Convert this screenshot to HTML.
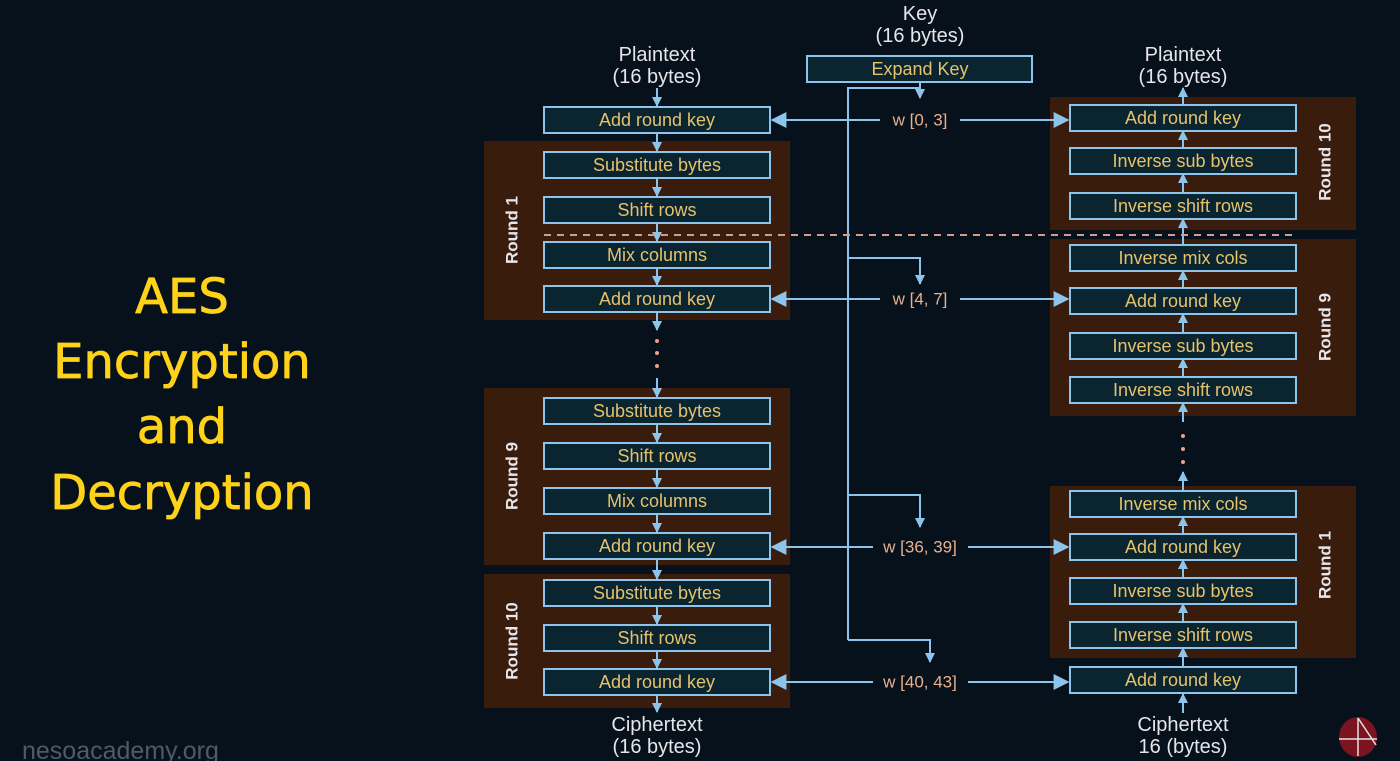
<!DOCTYPE html>
<html><head><meta charset="utf-8"><style>
html,body{margin:0;padding:0;background:#07111b;}
svg{display:block}
.b{fill:#0a2430;stroke:#8cc4ec;stroke-width:2}
.t{fill:#e6c26c;font-family:"Liberation Sans",sans-serif;font-size:18px;text-anchor:middle;dominant-baseline:central}
.w{fill:#e8b08c;font-family:"Liberation Sans",sans-serif;font-size:17px;text-anchor:middle;dominant-baseline:central}
.l{fill:#e6e6ea;font-family:"Liberation Sans",sans-serif;font-size:20px;text-anchor:middle}
.r{fill:#e6e6ea;font-family:"Liberation Sans",sans-serif;font-size:17px;font-weight:bold;text-anchor:middle;dominant-baseline:central}
.p{fill:#3a1c0c}
.ln{stroke:#8cc4ec;stroke-width:2;fill:none}
.h{fill:#ffd21a;font-family:"DejaVu Sans","Liberation Sans",sans-serif;font-size:48px;text-anchor:middle;stroke:#ffd21a;stroke-width:0.8}
</style></head><body>
<svg width="1400" height="761" viewBox="0 0 1400 761" xmlns="http://www.w3.org/2000/svg">
<defs>
<marker id="a" viewBox="0 0 10 10" refX="9" refY="5" markerWidth="5" markerHeight="5" orient="auto-start-reverse"><path d="M0,0L10,5L0,10z" fill="#8cc4ec"/></marker>
<marker id="A" viewBox="0 0 10 10" refX="9" refY="5" markerWidth="8" markerHeight="8" orient="auto-start-reverse"><path d="M0,0L10,5L0,10z" fill="#8cc4ec"/></marker>
</defs>
<rect width="1400" height="761" fill="#07111b"/>
<text class="h" x="182" y="313">AES</text>
<text class="h" x="182" y="378">Encryption</text>
<text class="h" x="182" y="443">and</text>
<text class="h" x="182" y="509">Decryption</text>
<text x="22" y="759" fill="#4d5b66" font-family="Liberation Sans,sans-serif" font-size="25">nesoacademy.org</text>
<rect class="p" x="484" y="141" width="306" height="179"/>
<rect class="p" x="484" y="388" width="306" height="177"/>
<rect class="p" x="484" y="574" width="306" height="134"/>
<rect class="p" x="1050" y="97" width="306" height="133"/>
<rect class="p" x="1050" y="239" width="306" height="177"/>
<rect class="p" x="1050" y="486" width="306" height="172"/>
<text class="r" transform="translate(512,230) rotate(-90)">Round 1</text>
<text class="r" transform="translate(512,476) rotate(-90)">Round 9</text>
<text class="r" transform="translate(512,641) rotate(-90)">Round 10</text>
<text class="r" transform="translate(1325,162) rotate(-90)">Round 10</text>
<text class="r" transform="translate(1325,327) rotate(-90)">Round 9</text>
<text class="r" transform="translate(1325,565) rotate(-90)">Round 1</text>
<g class="ln" marker-end="url(#a)">
<line x1="657" y1="88" x2="657" y2="106"/>
<line x1="657" y1="132" x2="657" y2="151"/>
<line x1="657" y1="177" x2="657" y2="196"/>
<line x1="657" y1="222" x2="657" y2="241"/>
<line x1="657" y1="267" x2="657" y2="285"/>
<line x1="657" y1="311" x2="657" y2="330"/>
<line x1="657" y1="378" x2="657" y2="397"/>
<line x1="657" y1="423" x2="657" y2="442"/>
<line x1="657" y1="468" x2="657" y2="487"/>
<line x1="657" y1="513" x2="657" y2="532"/>
<line x1="657" y1="558" x2="657" y2="579"/>
<line x1="657" y1="605" x2="657" y2="624"/>
<line x1="657" y1="650" x2="657" y2="668"/>
<line x1="657" y1="694" x2="657" y2="712"/>
<line x1="1183" y1="105" x2="1183" y2="88"/>
<line x1="1183" y1="148" x2="1183" y2="131"/>
<line x1="1183" y1="193" x2="1183" y2="174"/>
<line x1="1183" y1="245" x2="1183" y2="219"/>
<line x1="1183" y1="288" x2="1183" y2="271"/>
<line x1="1183" y1="333" x2="1183" y2="314"/>
<line x1="1183" y1="377" x2="1183" y2="359"/>
<line x1="1183" y1="422" x2="1183" y2="403"/>
<line x1="1183" y1="491" x2="1183" y2="472"/>
<line x1="1183" y1="534" x2="1183" y2="517"/>
<line x1="1183" y1="578" x2="1183" y2="560"/>
<line x1="1183" y1="622" x2="1183" y2="604"/>
<line x1="1183" y1="667" x2="1183" y2="648"/>
<line x1="1183" y1="713" x2="1183" y2="694"/>
<line x1="920" y1="82" x2="920" y2="98"/>
<polyline points="848,258 920,258 920,284"/>
<polyline points="848,495 920,495 920,527"/>
<polyline points="848,640 930,640 930,662"/>
</g>
<polyline class="ln" points="920,88 848,88 848,640"/>
<line x1="544" y1="235" x2="1296" y2="235" stroke="#d49c8c" stroke-width="2" stroke-dasharray="7,6"/>
<g fill="#e8a088"><circle cx="657" cy="341" r="2"/><circle cx="657" cy="353" r="2"/><circle cx="657" cy="366" r="2"/>
<circle cx="1183" cy="436" r="2"/><circle cx="1183" cy="449" r="2"/><circle cx="1183" cy="462" r="2"/></g>
<g class="ln" marker-end="url(#A)">
<line x1="880" y1="120" x2="772" y2="120"/><line x1="960" y1="120" x2="1068" y2="120"/>
<line x1="880" y1="299" x2="772" y2="299"/><line x1="960" y1="299" x2="1068" y2="299"/>
<line x1="873" y1="547" x2="772" y2="547"/><line x1="968" y1="547" x2="1068" y2="547"/>
<line x1="873" y1="682" x2="772" y2="682"/><line x1="968" y1="682" x2="1068" y2="682"/>
</g>
<text class="w" x="920" y="120">w [0, 3]</text>
<text class="w" x="920" y="299">w [4, 7]</text>
<text class="w" x="920" y="547">w [36, 39]</text>
<text class="w" x="920" y="682">w [40, 43]</text>
<rect class="b" x="807" y="56" width="225" height="26"/>
<text class="t" x="920" y="69">Expand Key</text>
<text class="l" x="920" y="20">Key</text>
<text class="l" x="920" y="42">(16 bytes)</text>
<text class="l" x="657" y="61">Plaintext</text>
<text class="l" x="657" y="83">(16 bytes)</text>
<text class="l" x="1183" y="61">Plaintext</text>
<text class="l" x="1183" y="83">(16 bytes)</text>
<text class="l" x="657" y="731">Ciphertext</text>
<text class="l" x="657" y="753">(16 bytes)</text>
<text class="l" x="1183" y="731">Ciphertext</text>
<text class="l" x="1183" y="753">16 (bytes)</text>
<g>
<rect class="b" x="544" y="107" width="226" height="26"/><text class="t" x="657" y="120">Add round key</text>
<rect class="b" x="544" y="152" width="226" height="26"/><text class="t" x="657" y="165">Substitute bytes</text>
<rect class="b" x="544" y="197" width="226" height="26"/><text class="t" x="657" y="210">Shift rows</text>
<rect class="b" x="544" y="242" width="226" height="26"/><text class="t" x="657" y="255">Mix columns</text>
<rect class="b" x="544" y="286" width="226" height="26"/><text class="t" x="657" y="299">Add round key</text>
<rect class="b" x="544" y="398" width="226" height="26"/><text class="t" x="657" y="411">Substitute bytes</text>
<rect class="b" x="544" y="443" width="226" height="26"/><text class="t" x="657" y="456">Shift rows</text>
<rect class="b" x="544" y="488" width="226" height="26"/><text class="t" x="657" y="501">Mix columns</text>
<rect class="b" x="544" y="533" width="226" height="26"/><text class="t" x="657" y="546">Add round key</text>
<rect class="b" x="544" y="580" width="226" height="26"/><text class="t" x="657" y="593">Substitute bytes</text>
<rect class="b" x="544" y="625" width="226" height="26"/><text class="t" x="657" y="638">Shift rows</text>
<rect class="b" x="544" y="669" width="226" height="26"/><text class="t" x="657" y="682">Add round key</text>
</g>
<g>
<rect class="b" x="1070" y="105" width="226" height="26"/><text class="t" x="1183" y="118">Add round key</text>
<rect class="b" x="1070" y="148" width="226" height="26"/><text class="t" x="1183" y="161">Inverse sub bytes</text>
<rect class="b" x="1070" y="193" width="226" height="26"/><text class="t" x="1183" y="206">Inverse shift rows</text>
<rect class="b" x="1070" y="245" width="226" height="26"/><text class="t" x="1183" y="258">Inverse mix cols</text>
<rect class="b" x="1070" y="288" width="226" height="26"/><text class="t" x="1183" y="301">Add round key</text>
<rect class="b" x="1070" y="333" width="226" height="26"/><text class="t" x="1183" y="346">Inverse sub bytes</text>
<rect class="b" x="1070" y="377" width="226" height="26"/><text class="t" x="1183" y="390">Inverse shift rows</text>
<rect class="b" x="1070" y="491" width="226" height="26"/><text class="t" x="1183" y="504">Inverse mix cols</text>
<rect class="b" x="1070" y="534" width="226" height="26"/><text class="t" x="1183" y="547">Add round key</text>
<rect class="b" x="1070" y="578" width="226" height="26"/><text class="t" x="1183" y="591">Inverse sub bytes</text>
<rect class="b" x="1070" y="622" width="226" height="26"/><text class="t" x="1183" y="635">Inverse shift rows</text>
<rect class="b" x="1070" y="667" width="226" height="26"/><text class="t" x="1183" y="680">Add round key</text>
</g>
<ellipse cx="1358" cy="737" rx="19" ry="20" fill="#7a1420"/>
<g stroke="#e8e0e0" stroke-width="1.5" fill="none"><line x1="1358" y1="718" x2="1358" y2="756"/><line x1="1339" y1="739" x2="1377" y2="739"/><line x1="1358" y1="718" x2="1376" y2="745"/></g>
</svg>
</body></html>
